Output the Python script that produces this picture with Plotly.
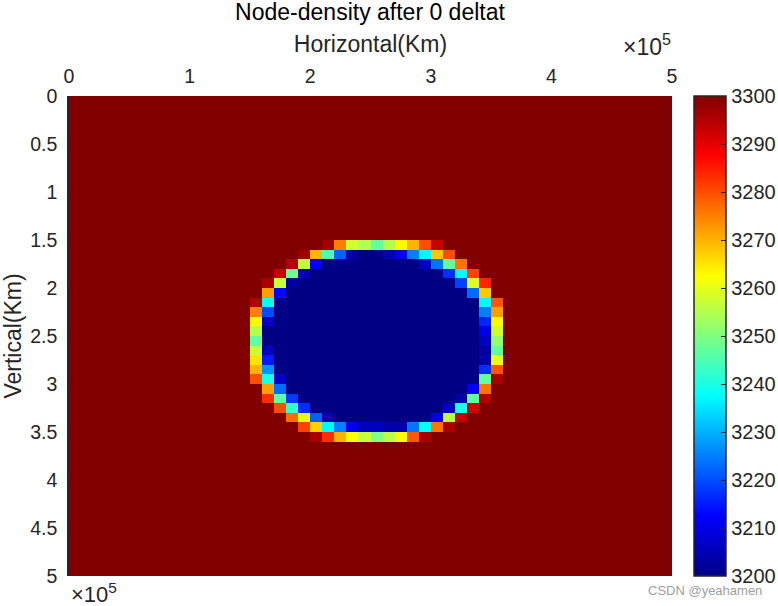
import plotly.graph_objects as go

NX, NY = 50, 50
CELL_KM = 10000
OUTSIDE, INSIDE = 3300, 3200
x_centers = [CELL_KM * (i + 0.5) for i in range(NX)]
y_centers = [CELL_KM * (j + 0.5) for j in range(NY)]

# row: (first col of left edge, left edge values, first col of right edge, right edge values)
ring_rows = {
    15: (21, [3297, 3275, 3258, 3255, 3247, 3255, 3263, 3270, 3280, 3293], 31, []),
    16: (19, [3297, 3270, 3245, 3222, 3204], 26, [3205, 3212, 3225, 3237, 3268, 3280]),
    17: (18, [3295, 3256, 3212], 29, [3207, 3224, 3247, 3276]),
    18: (17, [3293, 3248, 3205], 31, [3217, 3237, 3281]),
    19: (16, [3296, 3257, 3203], 32, [3219, 3259, 3284]),
    20: (16, [3272, 3213], 33, [3223, 3268]),
    21: (15, [3295, 3238], 34, [3237, 3279]),
    22: (15, [3275, 3220], 34, [3225, 3272]),
    23: (15, [3263, 3207], 34, [3216, 3263]),
    24: (15, [3255], 34, [3210, 3258]),
    25: (15, [3247], 34, [3206, 3252]),
    26: (15, [3257, 3206], 34, [3203, 3247]),
    27: (15, [3265, 3215], 34, [3204, 3261]),
    28: (15, [3270, 3227], 34, [3217, 3279]),
    29: (15, [3280, 3240, 3207], 34, [3247, 3296]),
    30: (16, [3272, 3223], 33, [3212, 3276]),
    31: (16, [3283, 3247, 3218], 32, [3204, 3247, 3295]),
    32: (17, [3280, 3243, 3217], 31, [3206, 3240, 3292]),
    33: (18, [3277, 3260, 3222, 3205], 30, [3211, 3256, 3293]),
    34: (19, [3281, 3267, 3237, 3225, 3211, 3206, 3206, 3204, 3204, 3224, 3238, 3276, 3296], 32, []),
    35: (20, [3296, 3283, 3270, 3262, 3257, 3250, 3256, 3262, 3279, 3296], 30, []),
}

density = [[OUTSIDE] * NX for _ in range(NY)]
for row, (lc, lv, rc, rv) in ring_rows.items():
    end = rc + len(rv)
    for c in range(lc, end):
        density[row][c] = INSIDE
    for k, v in enumerate(lv):
        density[row][lc + k] = v
    for k, v in enumerate(rv):
        density[row][rc + k] = v

x_ticks = [0, 100000, 200000, 300000, 400000, 500000]
x_labels = ["0", "1", "2", "3", "4", "5"]
y_ticks = [0, 50000, 100000, 150000, 200000, 250000, 300000, 350000, 400000, 450000, 500000]
y_labels = ["0", "0.5", "1", "1.5", "2", "2.5", "3", "3.5", "4", "4.5", "5"]
cb_ticks = [3200, 3210, 3220, 3230, 3240, 3250, 3260, 3270, 3280, 3290, 3300]

jet = [
    [0.0, "rgb(0,0,132)"],
    [0.125, "rgb(0,0,255)"],
    [0.375, "rgb(0,255,255)"],
    [0.625, "rgb(255,255,0)"],
    [0.875, "rgb(255,0,0)"],
    [1.0, "rgb(128,0,0)"],
]

INK = "#262626"
FONT = "Liberation Sans"
LEFT = 69
PW = 778 - LEFT  # plot-area width in pixels (margin r is 0)

fig = go.Figure(go.Heatmap(
    x=x_centers, y=y_centers, z=density, zmin=3200, zmax=3300,
    colorscale=jet, zsmooth=False, hoverinfo="skip",
    colorbar=dict(
        thickness=32, thicknessmode="pixels", len=1, lenmode="fraction",
        x=625 / PW, xanchor="left", xpad=0, y=0.5, yanchor="middle", ypad=0,
        outlinecolor=INK, outlinewidth=1.5, tickmode="array", tickvals=cb_ticks,
        ticks="inside", ticklen=5, tickcolor=INK, tickwidth=1,
        tickfont=dict(family=FONT, size=20, color=INK),
    ),
))

fig.update_layout(
    width=778, height=606, margin=dict(l=LEFT, r=0, t=96, b=30, autoexpand=False),
    paper_bgcolor="white", plot_bgcolor="white",
    font=dict(family=FONT, color=INK),
    xaxis=dict(
        domain=[0, 603 / PW], side="top", range=[0, 500000], tickmode="array",
        tickvals=x_ticks, ticktext=x_labels,
        ticks="outside", ticklen=4, tickcolor="rgba(0,0,0,0)", showgrid=False, zeroline=False,
        tickfont=dict(family=FONT, size=19.5, color=INK), automargin=False,
        title=dict(text="Horizontal(Km)", font=dict(family=FONT, size=23, color=INK), standoff=6),
    ),
    yaxis=dict(
        range=[500000, 0], tickmode="array", tickvals=y_ticks, ticktext=y_labels,
        ticks="outside", ticklen=6, tickcolor="rgba(0,0,0,0)", showgrid=False, zeroline=False,
        showline=True, linecolor=INK, linewidth=1.5, automargin=False,
        tickfont=dict(family=FONT, size=19.5, color=INK),
        title=dict(text="Vertical(Km)", font=dict(family=FONT, size=23, color=INK), standoff=8),
    ),
    title=dict(text="Node-density after 0 deltat", x=370 / 778, xanchor="center",
               y=1 - 12 / 606, yanchor="middle", font=dict(family=FONT, size=23, color="#000000")),
    annotations=[
        dict(text="×10<sup>5</sup>", xref="paper", yref="paper", x=603 / PW, y=1,
             xanchor="right", yanchor="bottom", yshift=34, xshift=1, showarrow=False,
             font=dict(family=FONT, size=23, color=INK)),
        dict(text="×10<sup>5</sup>", xref="paper", yref="paper", x=0, y=0,
             xanchor="left", yanchor="top", yshift=-1, xshift=0, showarrow=False,
             font=dict(family=FONT, size=22, color=INK)),
        dict(text="CSDN @yeahamen", xref="paper", yref="paper", x=695 / PW, y=0, yshift=-14,
             xanchor="right", yanchor="middle", showarrow=False,
             font=dict(family=FONT, size=13, color="#a0a0a0")),
    ],
)

fig.write_html("out.html", config={"displayModeBar": False},
               post_script="document.body.style.margin='0';")
